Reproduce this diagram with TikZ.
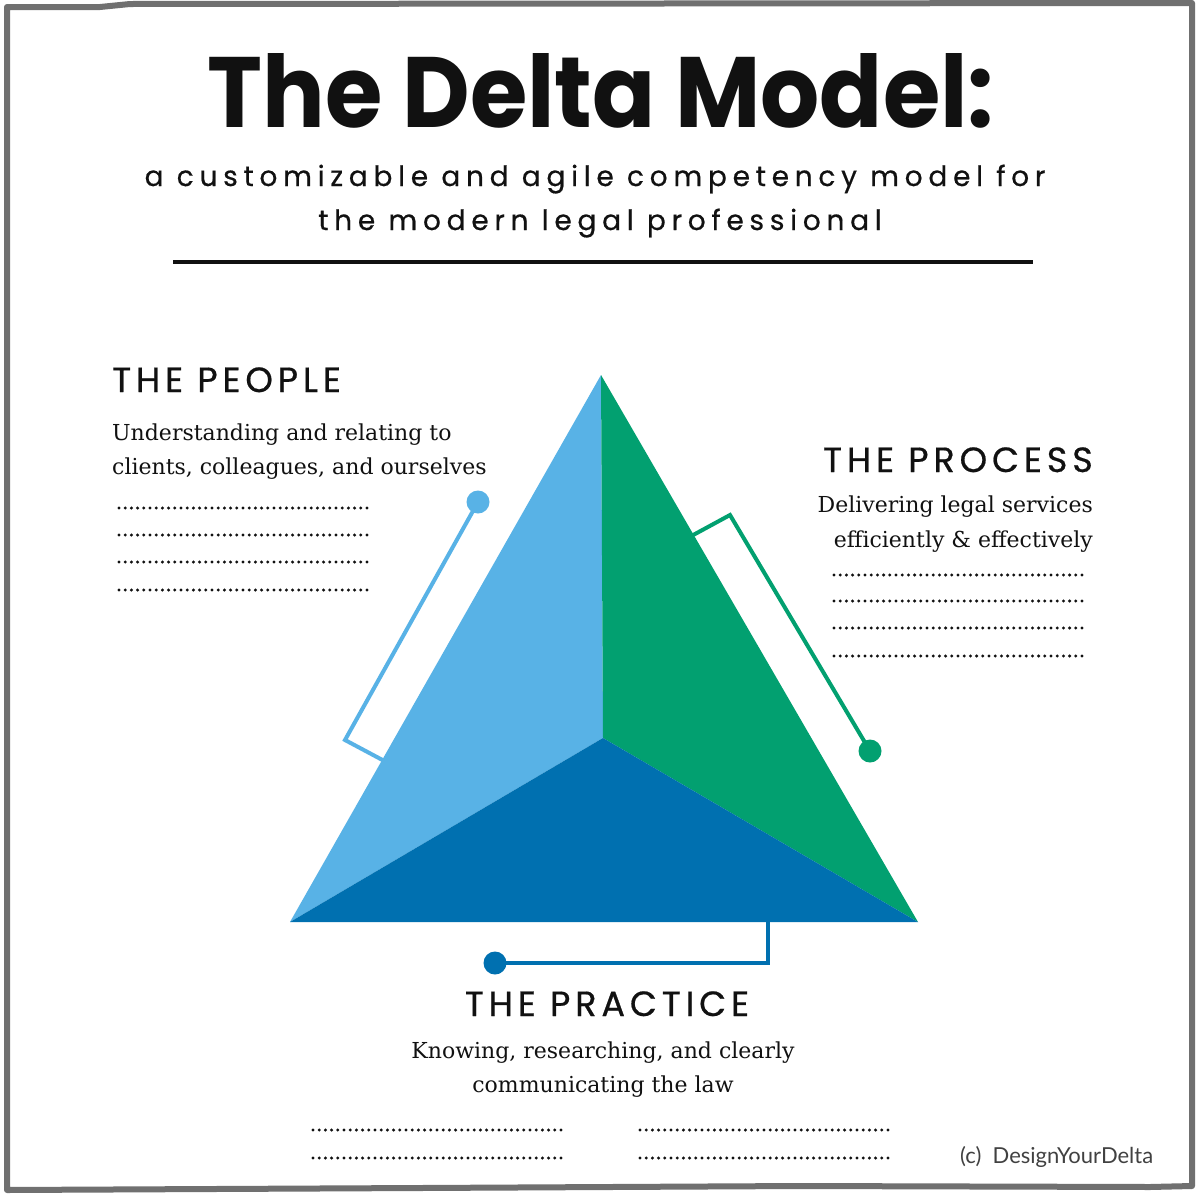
\documentclass[tikz,border=0pt]{standalone}
\usepackage{fontspec}
\setmainfont{DejaVu Serif}
\newfontfamily\titlefont{Poppins}
\newfontfamily\headfont{Poppins}[LetterSpace=14,FakeBold=0.6]
\newfontfamily\subfont{Poppins}[LetterSpace=20.5,FakeBold=0.5]
\newfontfamily\credfont{Lato}
\definecolor{lblue}{RGB}{88,178,230}
\definecolor{dgreen}{RGB}{2,160,112}
\definecolor{dblue}{RGB}{0,112,176}
\definecolor{framegray}{RGB}{112,112,112}
\definecolor{ink}{RGB}{17,17,17}
\begin{document}
\begin{tikzpicture}[x=1pt,y=-1pt,
  heading/.style={inner sep=0pt, text=ink, font=\headfont\fontsize{35}{40}\selectfont},
  body/.style={inner sep=0pt, text=ink, font=\fontsize{22}{26}\selectfont},
  dotrow/.style={line width=3.3pt, line cap=round, dash pattern=on 0pt off 6.2pt, draw=ink},
  conn/.style={line width=4pt, line join=miter},
  knob/.style={circle, inner sep=0pt, minimum size=23pt}]
\useasboundingbox (0,0) rectangle (1200,1200);
\fill[white] (0,0) rectangle (1200,1200);
% frame
\draw[framegray, line width=6pt, line join=round]
  (7,1190) -- (7,7) -- (100,7) -- (130,4) -- (1192,3) -- (1192,1186) -- (1150,1187) -- (800,1186) -- (420,1188) -- (7,1190) -- cycle;
% title
\node[inner sep=0pt, anchor=base, text=ink, font=\titlefont\bfseries\fontsize{100}{110}\selectfont] (title) at (601,127) {\scalebox{0.93}[1]{The Delta Model:}};
\node[inner sep=0pt, anchor=base, text=ink, font=\subfont\fontsize{28}{32}\selectfont] (sub1) at (595,186) {a customizable and agile competency model for};
\node[inner sep=0pt, anchor=base, text=ink, font=\subfont\fontsize{28}{32}\selectfont] (sub2) at (600,230) {the modern legal professional};
\draw[ink, line width=4pt] (173,262) -- (1033,262);
% coordinates of the delta
\coordinate (apex) at (601,375);
\coordinate (bl) at (290,922);
\coordinate (br) at (918,922);
\coordinate (mid) at (603,738);
% connectors (under the triangle)
\node[knob, fill=lblue] (kpeople) at (478,502) {};
\coordinate (cp1) at (345,740);
\coordinate (cp2) at (390,764);
\draw[conn, lblue] (kpeople.center) -- (cp1) -- (cp2);
\node[knob, fill=dgreen] (kprocess) at (870,751) {};
\coordinate (cg1) at (730,515);
\coordinate (cg2) at (684,540);
\draw[conn, dgreen] (kprocess.center) -- (cg1) -- (cg2);
\node[knob, fill=dblue] (kpractice) at (495,963) {};
\coordinate (cb1) at (768,963);
\coordinate (cb2) at (768,915);
\draw[conn, dblue] (kpractice.center) -- (cb1) -- (cb2);
% delta faces
\fill[lblue] (apex) -- (bl) -- (mid) -- cycle;
\fill[dgreen] (apex) -- (mid) -- (br) -- cycle;
\fill[dblue] (bl) -- (mid) -- (br) -- cycle;
% people
\node[heading, anchor=base west] (hpeople) at (112,392) {THE PEOPLE};
\node[body, anchor=base west] (tpeople1) at (112,440) {Understanding and relating to};
\node[body, anchor=base west] (tpeople2) at (112,474) {clients, colleagues, and ourselves};
\foreach \y in {508,535,562,590} \draw[dotrow] (119,\y) -- (373,\y);
% process
\node[heading, anchor=base east] (hprocess) at (1093,472) {THE PROCESS};
\node[body, anchor=base east] (tprocess1) at (1093,512) {Delivering legal services};
\node[body, anchor=base east] (tprocess2) at (1093,547) {efficiently \& effectively};
\foreach \y in {575,601,628,656} \draw[dotrow] (834,\y) -- (1087,\y);
% practice
\node[heading, anchor=base] (hpractice) at (607,1016) {THE PRACTICE};
\node[body, anchor=base] (tpractice1) at (603,1058) {Knowing, researching, and clearly};
\node[body, anchor=base] (tpractice2) at (603,1092) {communicating the law};
\foreach \y in {1130,1158} {
  \draw[dotrow] (313,\y) -- (566,\y);
  \draw[dotrow] (640,\y) -- (893,\y);
}
% credit
\node[inner sep=0pt, anchor=base west, text=ink!80, font=\credfont\fontsize{22}{26}\selectfont] (credit) at (960,1163) {(c)\ \ DesignYourDelta};
\end{tikzpicture}
\end{document}
